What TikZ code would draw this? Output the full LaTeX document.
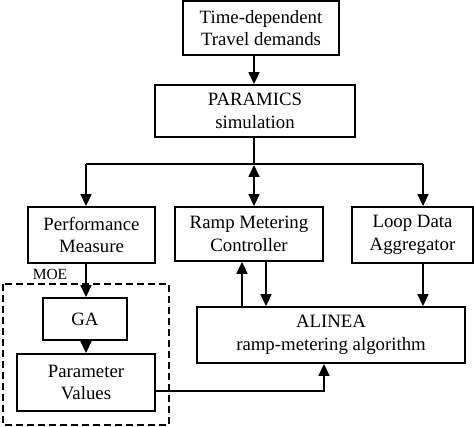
\documentclass[tikz,border=0pt]{standalone}
\usepackage{fontspec}
\setmainfont{Liberation Serif}
\usetikzlibrary{arrows.meta}
\begin{document}
\begin{tikzpicture}[x=1pt,y=-1pt,
  box/.style={draw,line width=1.8pt,align=center,inner sep=0pt,font=\fontsize{18.8}{22.5}\selectfont},
  arr/.style={line width=1.7pt,-{Triangle[length=12pt,width=11pt]}},
  ln/.style={line width=1.7pt}]
\useasboundingbox (0,0) rectangle (474,427);
\node[box,minimum width=156pt,minimum height=54pt] (td) at (261,28) {Time-dependent\\Travel demands};
\node[box,minimum width=200pt,minimum height=52pt] (par) at (255,111) {PARAMICS\\simulation};
\node[box,minimum width=127pt,minimum height=56pt] (pm) at (91.5,235) {Performance\\Measure};
\node[box,minimum width=148pt,minimum height=54pt] (rmc) at (249,234) {Ramp Metering\\Controller};
\node[box,minimum width=121pt,minimum height=56pt] (lda) at (412.5,235) {Loop Data\\Aggregator};
\node[box,minimum width=84pt,minimum height=42pt] (ga) at (85,319) {GA};
\node[box,minimum width=138pt,minimum height=57pt] (pv) at (86,382.5) {Parameter\\Values};
\node[box,minimum width=268pt,minimum height=56pt] (al) at (331,335) {ALINEA\\ramp-metering algorithm};
\node[font=\fontsize{15.5}{18}\selectfont,inner sep=0pt] (moe) at (50,274) {MOE};
\draw[line width=1.8pt,dash pattern=on 7pt off 4pt] (3,284) rectangle (169,425);
\coordinate (j) at (254,164);
\coordinate (jl) at (86,164);
\coordinate (jr) at (423,164);
\coordinate (c) at (324,391);
\draw[arr] (td.south -| j) -- (par.north -| j);
\draw[ln] (par.south -| j) -- (j);
\draw[ln] (jl) -- (jr);
\draw[arr] (jl) -- (pm.north -| jl);
\draw[arr] (jr) -- (lda.north -| jr);
\draw[line width=1.7pt,{Triangle[length=12pt,width=11pt]}-{Triangle[length=12pt,width=11pt]}] ([yshift=-1pt]j) -- (rmc.north -| j);
\draw[arr] (pm.south -| jl) -- (ga.north -| jl);
\draw[arr] (ga.south -| jl) -- (pv.north -| jl);
\draw[arr] (pv.east |- c) -- (c) -- (al.south -| c);
\draw[arr] (al.north -| 242,0) -- (rmc.south -| 242,0);
\draw[arr] (rmc.south -| 266,0) -- (al.north -| 266,0);
\draw[arr] (lda.south -| jr) -- (al.north -| jr);
\end{tikzpicture}
\end{document}
